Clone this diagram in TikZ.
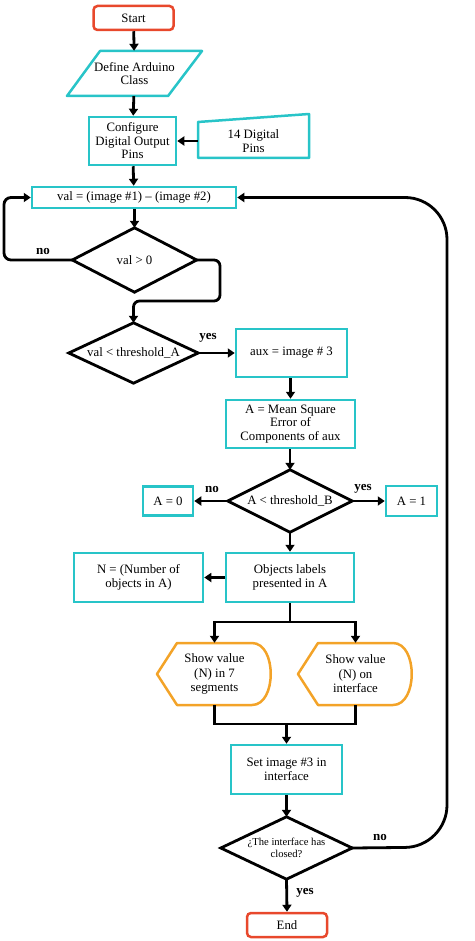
\documentclass[tikz,border=0pt]{standalone}
\usepackage{fontspec}
\setmainfont{Liberation Serif}
\usetikzlibrary{arrows.meta}
\definecolor{cy}{RGB}{40,196,200}
\definecolor{rd}{RGB}{232,72,44}
\definecolor{og}{RGB}{243,163,40}
\tikzset{
  txt/.style={font=\fontsize{12.8}{13.5}\selectfont, align=center, inner sep=0pt},
  box/.style={txt, draw=cy, line width=2.5pt},
  term/.style={txt, draw=rd, line width=2.5pt, rounded corners=4pt},
  ghost/.style={txt, draw=none},
  dia/.style={draw=black, line width=2.8pt, line join=miter},
  arr/.style={draw=black, line width=2.8pt, -{Triangle[length=7pt,width=9pt]}},
  ln/.style={draw=black, line width=2.8pt},
  lbl/.style={font=\fontsize{13}{13}\selectfont\bfseries, inner sep=0pt},
}
\begin{document}
\begin{tikzpicture}[x=1pt,y=-1pt]
\useasboundingbox (0,0) rectangle (474,941);
% nodes
\node[term, minimum width=80, minimum height=24] (start) at (133.5,18) {Start};
\node[ghost, minimum width=101, minimum height=45] (def) at (134.5,73.5) {Define Arduino\\Class};
\draw[cy, line width=2.5pt, line join=round] (100,51) -- (202,51) -- (168,96) -- (67,96) -- cycle;
\node[box, minimum width=87, minimum height=48] (cfg) at (132.5,141) {Configure\\Digital Output\\Pins};
\node[ghost, minimum width=111, minimum height=36] (pins) at (253.5,141) {14 Digital\\Pins};
\draw[cy, line width=2.5pt, line join=round] (198,122) -- (309,114) -- (309,158) -- (198,158) -- cycle;
\node[box, minimum width=204, minimum height=21] (val) at (134,197.5) {val = (image \#1) – (image \#2)};
\node[ghost, minimum width=124, minimum height=64] (d1) at (134.5,260) {val > 0};
\draw[dia] (d1.north) -- (d1.east) -- (d1.south) -- (d1.west) -- cycle;
\node[ghost, minimum width=129, minimum height=60] (d2) at (133.5,353) {val < threshold\_A};
\draw[dia] (d2.north) -- (d2.east) -- (d2.south) -- (d2.west) -- cycle;
\node[box, minimum width=111, minimum height=48] (aux) at (291.5,353) {aux = image \# 3};
\node[box, minimum width=129, minimum height=48] (mse) at (290.5,424) {A = Mean Square\\Error of\\Components of aux};
\node[ghost, minimum width=124, minimum height=62] (d3) at (290,501) {A < threshold\_B};
\draw[dia] (d3.north) -- (d3.east) -- (d3.south) -- (d3.west) -- cycle;
\node[box, minimum width=50, minimum height=29] (a0) at (168,501) {A = 0};
\node[box, minimum width=51, minimum height=30] (a1) at (411.5,501) {A = 1};
\node[box, minimum width=128, minimum height=49] (obj) at (290,577.5) {Objects labels\\presented in A};
\node[box, minimum width=129, minimum height=49] (nbox) at (138.5,577.5) {N = (Number of\\objects in A)};
\node[ghost, minimum width=115, minimum height=62, font=\fontsize{12.8}{14.5}\selectfont] (s7) at (214.5,674) {Show value\\(N) in 7\\segments};
\draw[og, line width=2.5pt, line join=round] (157,674) -- (177,643) -- (252,643) .. controls (277,643) and (277,705) .. (252,705) -- (177,705) -- cycle;
\node[ghost, minimum width=115, minimum height=62, font=\fontsize{12.8}{14.5}\selectfont] (si) at (355.5,674) {Show value\\(N) on\\interface};
\draw[og, line width=2.5pt, line join=round] (298,674) -- (318,643) -- (393,643) .. controls (418,643) and (418,705) .. (393,705) -- (318,705) -- cycle;
\node[box, minimum width=111, minimum height=49] (set) at (286.5,769.5) {Set image \#3 in\\interface};
\node[ghost, minimum width=131, minimum height=62, font=\fontsize{10.6}{12.3}\selectfont] (d4) at (286.5,848) {¿The interface has\\closed?};
\draw[dia] (d4.north) -- (d4.east) -- (d4.south) -- (d4.west) -- cycle;
\node[term, minimum width=80, minimum height=24] (end) at (287,925) {End};
% connectors
\draw[arr] (start) -- (def);
\draw[arr] (def) -- (cfg);
\draw[arr] (pins.west) -- (cfg.east);
\draw[arr] (cfg) -- (val);
\draw[arr] (val.south -| d1.north) -- (d1.north);
\coordinate (l1) at (4,260);
\coordinate (l2) at (4,197.5);
\draw[arr, rounded corners=7pt] (d1.west) -- (l1) -- (l2) -- (val.west);
\node[lbl] (no1) at (43,251) {no};
\coordinate (r1) at (220,260);
\coordinate (r2) at (220,301);
\coordinate (r3) at (133.5,301);
\draw[arr, rounded corners=6pt] (d1.east) -- (r1) -- (r2) -- (r3) -- (d2.north);
\draw[arr] (d2.east) -- (aux.west);
\node[lbl] (yes1) at (208,338) {yes};
\draw[arr] (aux.south -| mse.north) -- (mse.north);
\draw[arr] (mse.south -| d3.north) -- (d3.north);
\draw[arr] (d3.west) -- (a0.east);
\node[lbl] (no2) at (212,489) {no};
\draw[arr] (d3.east) -- (a1.west);
\node[lbl] (yes2) at (363,489) {yes};
\draw[arr] (d3.south) -- (obj.north);
\draw[arr] (obj.west) -- (nbox.east);
\coordinate (sp) at (290,622);
\draw[ln] (obj.south) -- (sp);
\draw[arr] (sp) -| (s7.north);
\draw[arr] (sp) -| (si.north);
\coordinate (mg) at (286.5,724);
\draw[ln] (s7.south) |- (mg);
\draw[ln] (si.south) |- (mg);
\draw[arr] (mg) -- (set.north);
\draw[arr] (set) -- (d4.north);
\draw[arr] (d4.south) -- (end.north);
\node[lbl] (yes3) at (305,893) {yes};
\coordinate (q1) at (447,847);
\coordinate (q2) at (447,197.5);
\draw[arr, rounded corners=42pt] (d4.east) -- (q1) -- (q2) -- (val.east);
\node[lbl] (no3) at (380,837) {no};
\end{tikzpicture}
\end{document}
